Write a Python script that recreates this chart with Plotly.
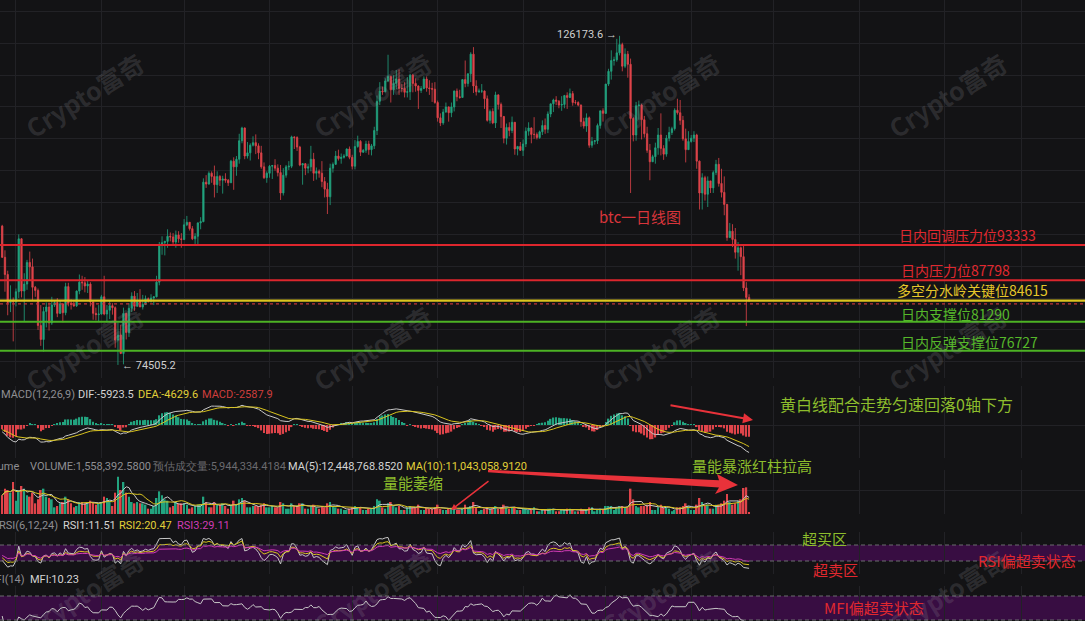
import numpy as np
import pandas as pd
import plotly.graph_objects as go

W, H = 1085, 621
START = "2025-02-24"
FIRST_OPEN_K = 96.3

# ---------------- data (thousands of USD, daily) ----------------
CLOSE_K = [
    91.4, 88.7, 84.3, 84.7, 84.4,
    86.0, 94.3, 86.1, 87.2, 90.6, 89.9, 86.7, 86.2, 80.7, 78.5, 82.9, 83.6, 81.1, 83.9, 84.3, 82.6,
    84.1, 82.7, 86.8, 84.2, 84.0, 83.8, 86.1, 87.5, 87.4, 86.9, 87.2, 84.4, 82.6, 82.4, 82.5,
    85.2, 82.5, 83.1, 83.8, 83.5, 78.4, 79.2, 76.3, 82.6, 79.6, 83.4, 85.3, 83.7, 84.5, 83.6,
    84.0, 84.9, 84.5, 85.0, 85.2, 87.5, 93.4, 93.7, 93.9, 94.7, 94.6, 93.8, 94.9, 94.3, 94.2,
    96.5, 96.9, 95.9, 94.3, 94.7, 96.8, 97.0, 103.2, 102.9, 104.6, 104.1, 102.8, 104.1, 103.5, 103.7,
    103.5, 103.1, 106.5, 105.6, 106.8, 109.7, 111.7, 107.3, 107.8, 109.0, 109.4, 108.9, 107.8, 105.6, 103.9, 104.6,
    105.7, 105.8, 105.4, 104.7, 101.5, 104.3, 105.6, 105.7, 110.3, 110.2, 108.7, 105.9, 106.1, 105.4, 105.6,
    106.8, 104.6, 104.9, 104.6, 103.3, 102.1, 100.9, 105.4, 106.0, 107.3, 106.9, 107.1, 107.3, 108.4, 107.1,
    105.7, 108.8, 109.6, 107.9, 108.2, 109.2, 108.3, 108.9, 111.3, 115.9, 117.5, 117.4, 119.1, 119.8, 117.7,
    118.7, 119.4, 117.9, 117.9, 117.3, 117.4, 120.0, 118.7, 118.3, 117.6, 117.9, 119.4, 118.0, 117.9, 117.8, 115.7,
    113.3, 112.5, 114.2, 115.0, 114.1, 115.0, 117.5, 116.6, 116.5, 119.3, 118.7, 120.2, 123.3, 118.3, 117.4,
    117.5, 117.5, 116.3, 112.9, 114.3, 112.5, 116.9, 115.4, 113.5, 110.1, 111.8, 111.3, 112.6, 108.4, 108.8, 108.2,
    109.2, 111.2, 111.7, 110.7, 110.7, 110.2, 111.1, 112.1, 111.5, 113.9, 115.5, 116.1, 115.9, 115.3, 115.4,
    116.8, 116.5, 117.1, 115.7, 115.7, 115.3, 112.7, 112.0, 113.3, 109.0, 109.6, 109.7, 112.1, 114.4, 114.0,
    118.6, 120.6, 122.3, 122.4, 123.5, 124.8, 121.4, 123.3, 121.7, 113.2, 110.6, 115.2, 115.3, 113.0, 110.8,
    108.2, 106.4, 107.2, 108.6, 110.6, 108.5, 107.6, 110.1, 111.0, 111.6, 114.5, 114.1, 112.9, 110.0, 108.3, 109.6,
    110.1, 110.6, 106.5, 101.5, 103.9, 101.3, 103.4, 102.3, 104.7, 106.0, 103.0, 101.6, 99.7, 94.5, 95.5,
    94.2, 92.2, 92.9, 91.5, 86.6, 85.1, 84.6,
]
HIGH_K = [
    96.5, 92.5, 89.3, 87.0, 85.1,
    86.5, 95.0, 94.4, 88.9, 91.0, 92.3, 91.2, 86.9, 86.5, 83.9, 83.6, 84.3, 84.3, 85.2, 84.7, 85.0,
    84.7, 84.1, 87.4, 87.4, 84.8, 84.5, 86.2, 88.7, 88.5, 88.3, 87.8, 87.5, 84.6, 83.5, 83.9,
    85.5, 88.5, 83.9, 84.7, 84.2, 83.7, 81.2, 80.8, 83.5, 82.7, 84.2, 85.9, 86.1, 85.8, 86.4,
    85.5, 85.4, 85.1, 85.6, 85.3, 88.5, 93.8, 94.7, 94.0, 95.8, 95.3, 95.2, 95.6, 95.5, 95.2,
    97.4, 97.9, 96.9, 96.3, 95.2, 96.9, 97.7, 103.8, 104.3, 104.9, 104.9, 105.8, 104.9, 104.3, 104.2,
    104.6, 103.7, 106.7, 107.1, 107.3, 110.8, 111.9, 111.8, 109.5, 109.3, 110.4, 110.7, 109.3, 108.9, 106.3, 104.9,
    105.9, 105.9, 106.8, 106.0, 105.9, 105.4, 105.9, 106.5, 110.5, 110.4, 110.4, 108.9, 106.2, 106.2, 106.1,
    108.9, 107.8, 105.5, 105.2, 106.5, 104.0, 103.1, 106.1, 106.3, 108.1, 108.3, 107.7, 107.6, 108.5, 108.8,
    107.5, 109.8, 110.5, 109.8, 108.4, 109.7, 109.7, 109.2, 111.9, 116.8, 118.9, 118.2, 119.5, 123.2, 119.9,
    120.0, 120.8, 120.9, 118.6, 118.9, 119.7, 120.2, 120.2, 119.5, 118.4, 118.3, 119.8, 119.8, 119.2, 118.8, 118.9,
    116.0, 114.0, 114.7, 115.7, 115.1, 115.7, 117.6, 117.9, 117.7, 119.3, 122.3, 120.3, 123.6, 124.4, 119.2,
    117.9, 118.6, 117.6, 116.8, 114.6, 114.8, 117.4, 117.0, 115.7, 113.6, 112.4, 112.6, 113.5, 112.6, 108.9, 109.5,
    109.9, 111.8, 112.6, 111.8, 113.4, 111.0, 111.3, 112.9, 113.2, 114.3, 115.5, 116.3, 116.7, 116.1, 116.7,
    116.9, 117.3, 117.9, 117.5, 116.1, 115.9, 115.4, 113.3, 114.0, 113.5, 110.3, 109.8, 112.4, 114.4, 114.8,
    118.6, 121.0, 123.9, 122.9, 125.7, 126.1736, 125.1, 124.2, 123.8, 122.6, 113.4, 115.8, 116.0, 115.5, 113.6,
    111.9, 109.2, 107.5, 109.4, 111.7, 114.0, 109.0, 110.6, 111.9, 111.9, 114.8, 116.3, 116.1, 113.6, 111.6, 111.2,
    110.6, 111.2, 110.8, 106.6, 104.6, 104.2, 104.1, 103.4, 105.0, 106.7, 107.0, 105.3, 104.1, 99.8, 96.8,
    96.6, 96.0, 93.8, 93.1, 93.2, 87.5, 85.6,
]
LOW_K = [
    91.3, 86.0, 82.3, 82.8, 78.2,
    83.7, 85.0, 85.1, 81.4, 86.3, 87.8, 84.7, 85.2, 80.0, 77.5, 76.6, 80.4, 79.9, 80.8, 83.6, 82.0,
    82.5, 81.2, 82.3, 83.7, 83.2, 83.6, 83.6, 85.6, 86.3, 85.9, 85.8, 83.7, 81.6, 81.5, 81.3,
    82.4, 82.3, 81.2, 81.7, 82.4, 77.2, 74.5052, 76.2, 74.6, 78.5, 78.9, 82.8, 83.0, 83.7, 83.6,
    83.2, 83.9, 84.3, 84.3, 83.9, 85.1, 87.0, 91.8, 91.7, 92.9, 93.9, 93.4, 92.9, 93.7, 92.9,
    94.1, 96.3, 95.6, 94.1, 93.5, 93.4, 95.8, 96.9, 102.3, 102.8, 103.1, 100.8, 101.5, 102.6, 101.4,
    103.1, 102.6, 103.1, 102.0, 104.2, 106.1, 109.3, 106.8, 106.9, 106.6, 108.8, 107.6, 106.8, 105.3, 103.7, 103.1,
    103.9, 103.7, 105.0, 104.1, 100.4, 101.1, 103.9, 105.1, 105.4, 108.4, 108.1, 105.7, 102.8, 104.3, 104.6,
    104.9, 103.4, 103.6, 103.9, 102.4, 100.8, 98.2, 99.6, 104.7, 105.9, 106.6, 106.1, 106.9, 107.3, 106.8,
    105.2, 105.2, 108.6, 107.3, 107.8, 107.8, 107.5, 107.4, 108.4, 110.6, 115.3, 116.9, 117.3, 118.9, 115.7,
    116.9, 117.8, 116.9, 117.3, 116.5, 116.5, 116.1, 117.3, 117.4, 114.7, 117.2, 117.8, 117.4, 116.9, 115.8, 115.5,
    112.7, 112.0, 112.2, 114.1, 112.7, 113.4, 114.3, 115.9, 116.3, 116.5, 118.1, 118.2, 118.9, 117.2, 116.8,
    117.2, 117.2, 114.7, 112.7, 112.4, 112.3, 111.7, 114.6, 111.7, 109.3, 109.1, 110.4, 110.9, 107.5, 107.4, 108.1,
    107.3, 108.7, 110.5, 109.3, 110.0, 109.9, 110.0, 110.6, 110.8, 110.9, 113.4, 114.2, 115.3, 114.8, 114.4,
    114.8, 114.7, 116.4, 115.2, 115.4, 115.1, 111.9, 111.6, 111.1, 108.6, 108.6, 109.1, 109.2, 111.6, 112.7,
    113.9, 118.3, 119.3, 121.5, 122.1, 123.1, 120.6, 121.1, 119.6, 101.5, 109.6, 109.7, 113.0, 109.9, 110.2,
    107.8, 103.5, 106.4, 106.1, 107.5, 107.4, 106.7, 107.2, 109.6, 110.6, 111.3, 113.8, 112.2, 109.7, 106.3, 108.3,
    109.4, 109.5, 105.3, 98.9, 98.9, 100.3, 99.3, 101.5, 101.5, 104.3, 102.5, 100.8, 98.0, 94.0, 94.5,
    93.0, 91.2, 89.3, 88.6, 86.1, 80.6, 84.4,
]
# volume, millions
VOLUME_M = [
    14, 19, 18, 16, 24,
    10, 18, 21, 19, 14, 13, 16, 8, 11, 18, 19, 13, 12, 11, 5, 6, 8, 9, 13, 11, 8, 5, 6, 9, 9, 8, 8, 10, 9, 7, 8,
    9, 13, 12, 10, 6, 16, 28, 18, 24, 16, 13, 9, 8, 9, 8, 8, 7, 4, 4, 6, 12, 17, 14, 11, 10, 5, 6, 9, 8, 8,
    8, 7, 4, 5, 6, 7, 7, 13, 9, 5, 5, 9, 7, 7, 8, 6, 4, 7, 10, 7, 11, 12, 10, 5, 5, 6, 6, 6, 7, 8, 5,
    5, 6, 5, 5, 9, 8, 4, 4, 8, 6, 6, 8, 8, 4, 4, 6, 7, 5, 4, 6, 5, 8, 9, 6, 5, 4, 4, 3, 3, 4,
    5, 6, 5, 5, 3, 3, 4, 4, 6, 11, 10, 5, 4, 8, 9, 6, 5, 6, 3, 3, 5, 6, 5, 5, 7, 3, 3, 5, 4, 4, 5,
    7, 4, 3, 3, 4, 4, 5, 3, 3, 4, 7, 5, 6, 9, 5, 2, 3, 4, 5, 4, 4, 6, 4, 5, 7, 5, 4, 5, 5, 3, 3,
    4, 4, 3, 3, 5, 2, 2, 3, 3, 4, 4, 4, 2, 2, 3, 3, 4, 4, 3, 2, 2, 4, 3, 3, 5, 5, 2, 3, 4, 3,
    6, 6, 6, 3, 5, 6, 6, 5, 5, 19, 11, 6, 5, 6, 6, 7, 9, 3, 3, 5, 7, 5, 5, 4, 2, 3, 5, 5, 6, 8, 6,
    3, 3, 7, 12, 9, 6, 7, 4, 4, 7, 7, 8, 10, 15, 9, 7, 8, 10, 11, 19.5, 20, 1.56,
]

LEVELS = [93333, 87798, 84615, 81290, 76727]
LEVEL_TEXT = ["日内回调压力位93333", "日内压力位87798", "多空分水岭关键位84615",
              "日内支撑位81290", "日内反弹支撑位76727"]
LEVEL_KIND = ["red", "red", "yellow", "green", "green"]
LEVEL_LABEL_PX = [(897, 235), (899, 270), (895, 290), (899, 314), (899, 342)]
CURRENT_PRICE = 84100

# ---------------- styling ----------------
BG = "#131315"
GRID = "#222226"
UP = "#22a37f"
DN = "#df444a"
WHITE_L = "#c8c8c8"
YELLOW_L = "#d9c41f"
MAGENTA_L = "#d03cb4"
LVL_COL = {"red": "#dd262d", "yellow": "#dcc51e", "green": "#4db324"}
TXT_COL = {"red": "#e0282f", "yellow": "#e6c62a", "green": "#56b82a"}
NOTE_GREEN = "#8dbd2c"
BAND = "#380d42"
CJK = "Noto Sans CJK SC"
LAT = "Roboto"

# ---------------- series ----------------
n = len(CLOSE_K)
assert len(HIGH_K) == n and len(LOW_K) == n and len(VOLUME_M) == n
idx = np.arange(n)
close = np.array(CLOSE_K) * 1000.0
opn = np.concatenate([[FIRST_OPEN_K * 1000.0], close[:-1]])
high = np.maximum(np.array(HIGH_K) * 1000.0, np.maximum(opn, close))
low = np.minimum(np.array(LOW_K) * 1000.0, np.minimum(opn, close))
vol = np.array(VOLUME_M, dtype=float)
is_up = close >= opn


def ema(x, span, seed):
    a = 2.0 / (span + 1)
    out, prev = [], seed
    for v in x:
        prev = a * v + (1 - a) * prev
        out.append(prev)
    return np.array(out)


# MACD(12,26,9), seeded from the values visible at the left edge
dif = ema(close, 12, 97000.0) - ema(close, 26, 98100.0)
dea = ema(dif, 9, -900.0)
macd_hist = 2 * (dif - dea)


def rsi(c, nper, seed_ratio, seed_abs=1500.0):
    up, ab = seed_ratio * seed_abs, seed_abs
    out = []
    prev = c[0]
    for i, v in enumerate(c):
        d = v - prev if i > 0 else -800.0
        up = (max(d, 0) + (nper - 1) * up) / nper
        ab = (abs(d) + (nper - 1) * ab) / nper
        out.append(100 * up / ab if ab > 0 else 50)
        prev = v
    return np.array(out)


rsi1 = rsi(close, 6, 0.35)
rsi2 = rsi(close, 12, 0.40)
rsi3 = rsi(close, 24, 0.45)

tp = (high + low + close) / 3
mf = tp * vol
mfi = []
for i in range(n):
    pos = neg = 0.0
    for j in range(max(1, i - 13), i + 1):
        if tp[j] > tp[j - 1]:
            pos += mf[j]
        elif tp[j] < tp[j - 1]:
            neg += mf[j]
    mfi.append(100 - 100 / (1 + pos / neg) if neg > 0 else 30.0)
mfi = np.array(mfi)

vol_s = pd.Series(vol)
ma5 = vol_s.rolling(5, min_periods=1).mean().values
ma10 = vol_s.rolling(10, min_periods=1).mean().values

# ---------------- geometry ----------------
X0_PX, PX_PER_DAY = 2.2, 2.756
x_range = [(0 - X0_PX) / PX_PER_DAY, (W - X0_PX) / PX_PER_DAY]


def fx(px):
    return px / W


def fy(py):
    return 1 - py / H


def pane(top_px, bot_px, v_ref, py_ref, per_px):
    rng = [v_ref - (bot_px - py_ref) * per_px, v_ref + (py_ref - top_px) * per_px]
    return dict(domain=[fy(bot_px), fy(top_px)], range=rng)


P_MAIN = pane(0, 378, 93333, 245, 157)
P_MACD = pane(386, 458, 0, 425, 215)
P_VOL = pane(470, 514, 0, 514, 0.75)
P_RSI = pane(532, 574, 30, 561, 2.5)
P_MFI = pane(586, 621, 20, 620, 2.5)

month_starts = pd.date_range("2025-03-01", "2026-03-01", freq="MS")
month_idx = [(d - pd.Timestamp(START)).days for d in month_starts]

fig = go.Figure()

fig.add_trace(go.Candlestick(
    x=idx, open=opn, high=high, low=low, close=close,
    increasing=dict(line=dict(color=UP, width=0.8), fillcolor=UP),
    decreasing=dict(line=dict(color=DN, width=0.8), fillcolor=DN),
    whiskerwidth=0, xaxis="x", yaxis="y", hoverinfo="skip"))

fig.add_trace(go.Bar(x=idx, y=macd_hist, marker_color=np.where(macd_hist >= 0, UP, DN),
                     marker_line_width=0, width=0.55, xaxis="x", yaxis="y2"))
fig.add_trace(go.Scatter(x=idx, y=dif, mode="lines", line=dict(color=WHITE_L, width=1),
                         xaxis="x", yaxis="y2"))
fig.add_trace(go.Scatter(x=idx, y=dea, mode="lines", line=dict(color=YELLOW_L, width=1),
                         xaxis="x", yaxis="y2"))

fig.add_trace(go.Bar(x=idx, y=vol, marker_color=np.where(is_up, UP, DN),
                     marker_line_width=0, width=0.62, xaxis="x", yaxis="y3"))
fig.add_trace(go.Scatter(x=idx, y=ma5, mode="lines", line=dict(color=WHITE_L, width=1),
                         xaxis="x", yaxis="y3"))
fig.add_trace(go.Scatter(x=idx, y=ma10, mode="lines", line=dict(color=YELLOW_L, width=1),
                         xaxis="x", yaxis="y3"))

for s, col in [(rsi1, WHITE_L), (rsi2, YELLOW_L), (rsi3, MAGENTA_L)]:
    fig.add_trace(go.Scatter(x=idx, y=s, mode="lines", line=dict(color=col, width=1),
                             xaxis="x", yaxis="y4"))
fig.add_trace(go.Scatter(x=idx, y=mfi, mode="lines", line=dict(color=WHITE_L, width=1),
                         xaxis="x", yaxis="y5"))

shapes = []
# oscillator bands
for yref, lo_v, hi_v in [("y4", 30, 70), ("y5", 20, 80)]:
    shapes.append(dict(type="rect", xref="paper", yref=yref, x0=0, x1=1, y0=lo_v, y1=hi_v,
                       fillcolor=BAND, line_width=0, layer="below"))
    for v in (lo_v, hi_v):
        shapes.append(dict(type="line", xref="paper", yref=yref, x0=0, x1=1, y0=v, y1=v,
                           line=dict(color="#6c6c70", width=1, dash="4px,3px")))
# current price dashed line
shapes.append(dict(type="line", xref="paper", yref="y", x0=0, x1=1, y0=CURRENT_PRICE,
                   y1=CURRENT_PRICE, line=dict(color="#c0343a", width=1.2, dash="3px,3px")))
# level lines
for lv, kind in zip(LEVELS, LEVEL_KIND):
    shapes.append(dict(type="line", xref="paper", yref="y", x0=0, x1=1, y0=lv, y1=lv,
                       line=dict(color=LVL_COL[kind], width=2.2 if kind == "yellow" else 2)))


def ppath(points):
    s = "M " + " L ".join(f"{fx(a):.5f},{fy(b):.5f}" for a, b in points) + " Z"
    return s


# big tapered arrow in the volume pane
shapes.append(dict(type="path", xref="paper", yref="paper",
                   path=ppath([(488, 469.8), (719, 480.2), (717, 474.0), (738, 485.0),
                               (715, 494.0), (719, 487.6), (488, 472.2)]),
                   fillcolor="#e8323a", line_width=0))

annotations = []


def ann(text, px, py, color, size, family=CJK, xanchor="left", **kw):
    annotations.append(dict(text=text, x=fx(px), y=fy(py), xref="paper", yref="paper",
                            xanchor=xanchor, yanchor="middle", showarrow=False,
                            font=dict(color=color, size=size, family=family), **kw))


# watermarks
for wy in (95, 348, 592):
    for wx in (84, 372, 660, 947):
        annotations.append(dict(text="<b>Crypto富奇</b>", x=fx(wx), y=fy(wy), xref="paper",
                                yref="paper", xanchor="center", yanchor="middle",
                                showarrow=False, textangle=-32,
                                font=dict(color="rgba(150,150,155,0.2)", size=25, family=CJK)))

for txt, kind, (px, py) in zip(LEVEL_TEXT, LEVEL_KIND, LEVEL_LABEL_PX):
    ann(txt, px, py, TXT_COL[kind], 14)

ann("btc一日线图", 597, 216, "#d8353b", 15)

# high / low markers
imax = int(np.argmax(high))
imin = int(np.argmin(low))
annotations.append(dict(text="126173.6 →", x=idx[imax], y=high[imax], xref="x", yref="y",
                        xanchor="right", yanchor="middle", xshift=-1, yshift=1, showarrow=False,
                        font=dict(color="#cfcfcf", size=11, family=LAT)))
annotations.append(dict(text="← 74505.2", x=idx[imin], y=low[imin], xref="x", yref="y",
                        xanchor="left", yanchor="middle", xshift=2, yshift=-1, showarrow=False,
                        font=dict(color="#cfcfcf", size=11, family=LAT)))

# pane headers
HS = 11
ann("MACD(12,26,9)", -1, 394, "#8e8e92", HS, LAT)
ann("DIF:-5923.5", 76, 394, "#d4d4d4", HS, LAT)
ann("DEA:-4629.6", 136, 394, "#e2d038", HS, LAT)
ann("MACD:-2587.9", 200, 394, "#cf3e3c", HS, LAT)

ann("Volume", -20, 466, "#8e8e92", HS, LAT)
ann("VOLUME:1,558,392.5800", 28, 466, "#8e8e92", HS, LAT)
ann("预估成交量:5,944,334.4184", 151, 466, "#6a6a6e", HS, LAT)
ann("MA(5):12,448,768.8520", 286, 466, "#d4d4d4", HS, LAT)
ann("MA(10):11,043,058.9120", 404, 466, "#e2d038", HS, LAT)

ann("RSI(6,12,24)", -3, 525, "#8e8e92", HS, LAT)
ann("RSI1:11.51", 61, 525, "#d4d4d4", HS, LAT)
ann("RSI2:20.47", 117, 525, "#e2d038", HS, LAT)
ann("RSI3:29.11", 175, 525, "#d03cb4", HS, LAT)

ann("MFI(14)", -16, 579, "#8e8e92", HS, LAT)
ann("MFI:10.23", 28, 579, "#d4d4d4", HS, LAT)

# commentary
ann("黄白线配合走势匀速回落0轴下方", 778, 404, NOTE_GREEN, 16)
ann("量能暴涨红柱拉高", 690, 465, NOTE_GREEN, 15)
ann("量能萎缩", 381, 482, NOTE_GREEN, 15)
ann("超买区", 800, 538, NOTE_GREEN, 15)
ann("超卖区", 811, 569, "#e0282f", 15)
ann("RSI偏超卖状态", 976, 560, "#e0282f", 15)
ann("MFI偏超卖状态", 822, 607, "#e0282f", 15)

# arrows
annotations.append(dict(x=fx(753), y=fy(420), xref="paper", yref="paper", text="",
                        showarrow=True, ax=669 - 753, ay=405 - 420, arrowhead=2,
                        arrowsize=1, arrowwidth=2, arrowcolor="#e8323a"))
annotations.append(dict(x=fx(451), y=fy(510), xref="paper", yref="paper", text="",
                        showarrow=True, ax=490 - 451, ay=480 - 510, arrowhead=2,
                        arrowsize=0.8, arrowwidth=1.5, arrowcolor="#e8323a"))

axis_common = dict(showticklabels=False, zeroline=False, showline=False, ticks="")
fig.update_layout(
    width=W, height=H, margin=dict(l=0, r=0, t=0, b=0, pad=0),
    paper_bgcolor=BG, plot_bgcolor=BG, showlegend=False, hovermode=False,
    xaxis=dict(range=x_range, tickmode="array", tickvals=month_idx, showgrid=True,
               gridcolor=GRID, gridwidth=1, rangeslider=dict(visible=False), anchor="y",
               **axis_common),
    yaxis=dict(domain=P_MAIN["domain"], range=P_MAIN["range"], tickmode="array",
               tickvals=list(range(75000, 131000, 5000)), gridcolor=GRID, showgrid=True,
               anchor="x", **axis_common),
    yaxis2=dict(domain=P_MACD["domain"], range=P_MACD["range"], tickmode="array",
                tickvals=[0, -7000], gridcolor=GRID, showgrid=True, anchor="x", **axis_common),
    yaxis3=dict(domain=P_VOL["domain"], range=P_VOL["range"], tickmode="array",
                tickvals=[0, 18], gridcolor=GRID, showgrid=True, anchor="x", **axis_common),
    yaxis4=dict(domain=P_RSI["domain"], range=P_RSI["range"], showgrid=False, anchor="x",
                **axis_common),
    yaxis5=dict(domain=P_MFI["domain"], range=P_MFI["range"], showgrid=False, anchor="x",
                **axis_common),
    shapes=shapes, annotations=annotations,
)

fig.write_html("out.html", config={"displayModeBar": False},
               post_script="document.body.style.margin='0';document.body.style.overflow='hidden';"
                           "document.documentElement.style.background='" + BG + "';")
